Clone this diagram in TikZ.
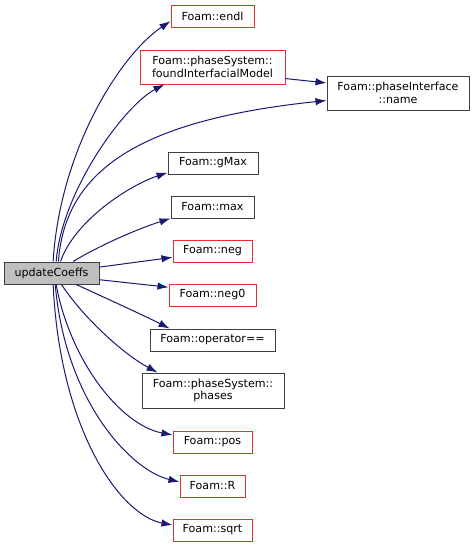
\documentclass[tikz,border=0pt]{standalone}
\usepackage{fontspec}
\setmainfont{DejaVu Sans}
\usetikzlibrary{arrows.meta}
\definecolor{edgeblue}{RGB}{25,25,112}
\definecolor{selfgrey}{RGB}{191,191,191}
\definecolor{undocred}{RGB}{235,45,45}

\begin{document}
\begin{tikzpicture}[x=1pt, y=-1pt, font=\fontsize{11.1}{12.6}\selectfont,
	doc/.style={draw=black!75, line width=1pt, inner sep=0pt, minimum height=22pt, align=center},
	undoc/.style={doc, draw=undocred},
	self/.style={doc, fill=selfgrey},
	call/.style={draw=edgeblue, line width=1pt, -{Latex[length=11pt,width=7.5pt]}}]
			\useasboundingbox (0,0) rectangle (474,547);
			\node[self, minimum width=95pt] (uc) at (51.5,273) {updateCoeffs};
			\node[undoc, minimum width=83pt] (endl) at (212.5,16) {Foam::endl};
			\node[undoc, minimum width=145pt, minimum height=34pt] (found) at (212.5,67) {Foam::phaseSystem::\\foundInterfacialModel};
			\node[doc, minimum width=142pt, minimum height=34pt] (name) at (398,93) {Foam::phaseInterface\\::name};
			\node[doc, minimum width=90pt] (gmax) at (213,163) {Foam::gMax};
			\node[doc, minimum width=83pt] (max) at (212.5,207) {Foam::max};
			\node[undoc, minimum width=79pt] (neg) at (212.5,251) {Foam::neg};
			\node[undoc, minimum width=87pt] (neg0) at (212.5,295) {Foam::neg0};
			\node[doc, minimum width=125pt] (opeq) at (212.5,340) {Foam::operator==};
			\node[doc, minimum width=142pt, minimum height=35pt] (phases) at (213,390.5) {Foam::phaseSystem::\\phases};
			\node[undoc, minimum width=79pt] (pos) at (212.5,442) {Foam::pos};
			\node[undoc, minimum width=65pt] (R) at (212.5,486) {Foam::R};
			\node[undoc, minimum width=79pt] (sqrt) at (212.5,530) {Foam::sqrt};
			\draw[call] (uc.82) .. controls (60,150) and (120,55) .. (endl.187);
			\draw[call] (uc.68) .. controls (62,190) and (125,105) .. (found.200);
			\draw[call] (uc.59) .. controls (65,170) and (140,120) .. (name.186);
			\draw[call] (found.351) -- (name.172);
			\draw[call] (uc.52) .. controls (75,220) and (130,185) .. (gmax.192);
			\draw[call] (uc.28) .. controls (100,245) and (140,228) .. (max.south west);
			\draw[call] (uc.7) -- (neg.189);
			\draw[call] (uc.352) -- (neg0.170);
			\draw[call] (uc.335) .. controls (110,300) and (145,316) .. (opeq.165);
			\draw[call] (uc.311) .. controls (85,320) and (125,355) .. (phases.162);
			\draw[call] (uc.292) .. controls (70,360) and (120,425) .. (pos.170);
			\draw[call] (uc.288) .. controls (65,400) and (130,470) .. (R.173);
			\draw[call] (uc.278) .. controls (60,430) and (120,515) .. (sqrt.173);
			\end{tikzpicture}
\end{document}
